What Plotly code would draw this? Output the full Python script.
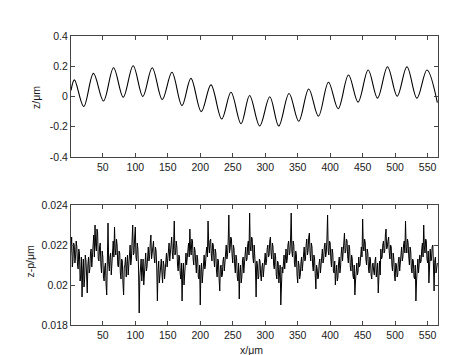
import plotly.graph_objects as go
from plotly.subplots import make_subplots

# Top profile: extrema (x in um, z in um)
top_x = [1, 6.3, 20.6, 35.6, 51, 66.5, 81.4, 96.7, 111.6, 126, 141.5, 156.4, 171.8,
         185.6, 201.5, 216.5, 233, 247.3, 262.8, 276, 291.5, 307, 320.8, 336.7,
         351.6, 367, 381.9, 397.4, 412.3, 428.2, 443, 458.5, 472.9, 488.3, 503.2,
         518.2, 533.6, 549, 565]
top_z = [0.04, 0.11, -0.066, 0.153, -0.03, 0.19, -0.005, 0.203, 0.0, 0.19, -0.02,
         0.16, -0.06, 0.12, -0.10, 0.077, -0.149, 0.028, -0.18, 0.007, -0.195,
         -0.002, -0.195, 0.02, -0.164, 0.05, -0.13, 0.094, -0.081, 0.142, -0.037,
         0.175, -0.011, 0.197, 0.002, 0.197, -0.011, 0.175, -0.04]

# Bottom residual (values read/estimated from the picture)
# samples at even x = 0, 2, ..., 564
bot_z_even = [
    0.0213, 0.0224, 0.0212, 0.0220, 0.0214, 0.0219, 0.0208, 0.0216, 0.0205, 0.0194, 0.0213, 0.0203, 0.0212, 0.0196, 0.0214,
    0.0208, 0.0218, 0.0214, 0.0225, 0.0230, 0.0217, 0.0226, 0.0212, 0.0221, 0.0206, 0.0214, 0.0202, 0.0211, 0.0195, 0.0231,
    0.0207, 0.0216, 0.0212, 0.0222, 0.0229, 0.0215, 0.0220, 0.0209, 0.0216, 0.0203, 0.0212, 0.0195, 0.0210, 0.0204, 0.0215,
    0.0211, 0.0220, 0.0213, 0.0230, 0.0216, 0.0229, 0.0212, 0.0218, 0.0186, 0.0210, 0.0202, 0.0213, 0.0205, 0.0216, 0.0209,
    0.0219, 0.0214, 0.0225, 0.0216, 0.0222, 0.0211, 0.0217, 0.0192, 0.0212, 0.0204, 0.0213, 0.0201, 0.0210, 0.0207, 0.0216,
    0.0212, 0.0221, 0.0215, 0.0224, 0.0213, 0.0232, 0.0216, 0.0219, 0.0207, 0.0214, 0.0203, 0.0192, 0.0211, 0.0205, 0.0216,
    0.0213, 0.0221, 0.0228, 0.0215, 0.0222, 0.0210, 0.0217, 0.0206, 0.0213, 0.0203, 0.0190, 0.0211, 0.0206, 0.0215, 0.0210,
    0.0219, 0.0232, 0.0216, 0.0223, 0.0212, 0.0220, 0.0209, 0.0216, 0.0204, 0.0212, 0.0197, 0.0210, 0.0205, 0.0214, 0.0211,
    0.0220, 0.0215, 0.0235, 0.0218, 0.0223, 0.0211, 0.0218, 0.0206, 0.0213, 0.0202, 0.0193, 0.0210, 0.0204, 0.0214, 0.0209,
    0.0219, 0.0213, 0.0222, 0.0236, 0.0217, 0.0223, 0.0211, 0.0216, 0.0194, 0.0210, 0.0204, 0.0212, 0.0202, 0.0211, 0.0207,
    0.0216, 0.0212, 0.0220, 0.0215, 0.0224, 0.0213, 0.0219, 0.0208, 0.0214, 0.0203, 0.0211, 0.0205, 0.0190, 0.0209, 0.0213,
    0.0208, 0.0218, 0.0213, 0.0222, 0.0216, 0.0236, 0.0214, 0.0220, 0.0209, 0.0215, 0.0201, 0.0210, 0.0205, 0.0214, 0.0210,
    0.0219, 0.0213, 0.0223, 0.0217, 0.0226, 0.0212, 0.0219, 0.0207, 0.0213, 0.0198, 0.0208, 0.0204, 0.0213, 0.0209, 0.0218,
    0.0213, 0.0221, 0.0216, 0.0235, 0.0215, 0.0221, 0.0209, 0.0216, 0.0206, 0.0200, 0.0210, 0.0204, 0.0214, 0.0209, 0.0219,
    0.0215, 0.0226, 0.0217, 0.0222, 0.0211, 0.0218, 0.0207, 0.0213, 0.0203, 0.0195, 0.0209, 0.0205, 0.0214, 0.0210, 0.0219,
    0.0233, 0.0217, 0.0221, 0.0210, 0.0216, 0.0206, 0.0213, 0.0203, 0.0211, 0.0205, 0.0214, 0.0207, 0.0196, 0.0212, 0.0218,
    0.0214, 0.0222, 0.0217, 0.0228, 0.0219, 0.0224, 0.0213, 0.0219, 0.0207, 0.0213, 0.0202, 0.0210, 0.0205, 0.0214, 0.0210,
    0.0219, 0.0214, 0.0222, 0.0232, 0.0216, 0.0221, 0.0210, 0.0217, 0.0206, 0.0212, 0.0203, 0.0192, 0.0210, 0.0206, 0.0215,
    0.0212, 0.0221, 0.0230, 0.0216, 0.0222, 0.0211, 0.0201, 0.0218, 0.0213, 0.0220, 0.0197, 0.0214, 0.0209,
]
# samples at odd x = 1, 3, ..., 565
bot_z_odd = [
    0.0220, 0.0209, 0.0221, 0.0211, 0.0222, 0.0210, 0.0218, 0.0202, 0.0214, 0.0207, 0.0199, 0.0215, 0.0205, 0.0210, 0.0206,
    0.0216, 0.0209, 0.0223, 0.0214, 0.0220, 0.0228, 0.0213, 0.0219, 0.0210, 0.0217, 0.0204, 0.0209, 0.0200, 0.0213, 0.0211,
    0.0214, 0.0205, 0.0219, 0.0214, 0.0218, 0.0223, 0.0210, 0.0217, 0.0206, 0.0213, 0.0201, 0.0209, 0.0214, 0.0210, 0.0205,
    0.0217, 0.0210, 0.0222, 0.0215, 0.0224, 0.0214, 0.0221, 0.0208, 0.0204, 0.0213, 0.0208, 0.0200, 0.0211, 0.0207, 0.0214,
    0.0212, 0.0221, 0.0213, 0.0220, 0.0214, 0.0219, 0.0209, 0.0207, 0.0201, 0.0210, 0.0206, 0.0212, 0.0203, 0.0213, 0.0209,
    0.0218, 0.0212, 0.0220, 0.0216, 0.0221, 0.0215, 0.0222, 0.0210, 0.0215, 0.0206, 0.0211, 0.0206, 0.0200, 0.0212, 0.0210,
    0.0219, 0.0214, 0.0218, 0.0223, 0.0213, 0.0219, 0.0211, 0.0215, 0.0204, 0.0210, 0.0207, 0.0201, 0.0213, 0.0208, 0.0216,
    0.0214, 0.0220, 0.0222, 0.0215, 0.0221, 0.0213, 0.0218, 0.0207, 0.0213, 0.0203, 0.0209, 0.0204, 0.0212, 0.0207, 0.0216,
    0.0213, 0.0222, 0.0216, 0.0224, 0.0215, 0.0220, 0.0210, 0.0215, 0.0204, 0.0211, 0.0206, 0.0201, 0.0212, 0.0206, 0.0215,
    0.0212, 0.0220, 0.0215, 0.0219, 0.0224, 0.0214, 0.0220, 0.0208, 0.0212, 0.0203, 0.0213, 0.0205, 0.0209, 0.0204, 0.0213,
    0.0210, 0.0218, 0.0214, 0.0222, 0.0216, 0.0221, 0.0210, 0.0216, 0.0205, 0.0212, 0.0201, 0.0210, 0.0204, 0.0206, 0.0215,
    0.0214, 0.0211, 0.0220, 0.0215, 0.0223, 0.0217, 0.0222, 0.0211, 0.0217, 0.0205, 0.0212, 0.0203, 0.0211, 0.0207, 0.0216,
    0.0212, 0.0220, 0.0215, 0.0224, 0.0216, 0.0221, 0.0210, 0.0215, 0.0205, 0.0210, 0.0203, 0.0211, 0.0206, 0.0215, 0.0211,
    0.0219, 0.0214, 0.0223, 0.0217, 0.0222, 0.0213, 0.0218, 0.0207, 0.0212, 0.0206, 0.0202, 0.0211, 0.0206, 0.0216, 0.0212,
    0.0221, 0.0216, 0.0223, 0.0214, 0.0220, 0.0209, 0.0215, 0.0205, 0.0210, 0.0202, 0.0211, 0.0207, 0.0209, 0.0216, 0.0214,
    0.0219, 0.0223, 0.0213, 0.0218, 0.0208, 0.0214, 0.0205, 0.0210, 0.0207, 0.0212, 0.0204, 0.0211, 0.0208, 0.0205, 0.0213,
    0.0220, 0.0216, 0.0225, 0.0218, 0.0222, 0.0216, 0.0220, 0.0210, 0.0216, 0.0205, 0.0211, 0.0204, 0.0212, 0.0207, 0.0215,
    0.0212, 0.0220, 0.0216, 0.0219, 0.0223, 0.0214, 0.0219, 0.0208, 0.0213, 0.0204, 0.0210, 0.0202, 0.0213, 0.0209, 0.0211,
    0.0218, 0.0214, 0.0219, 0.0223, 0.0213, 0.0217, 0.0209, 0.0212, 0.0219, 0.0210, 0.0212, 0.0206, 0.0211,
]

bot_x = []
bot_z = []
for i, (ze, zo) in enumerate(zip(bot_z_even, bot_z_odd)):
    bot_x += [2 * i, 2 * i + 1]
    bot_z += [ze, zo]

x_ticks = [50, 100, 150, 200, 250, 300, 350, 400, 450, 500, 550]
top_ticks = [-0.4, -0.2, 0, 0.2, 0.4]
top_tick_text = ["-0.4", "-0.2", "0", "0.2", "0.4"]
bot_ticks = [0.018, 0.020, 0.022, 0.024]
bot_tick_text = ["0.018", "0.02", "0.022", "0.024"]

fig = make_subplots(rows=2, cols=1, vertical_spacing=0.166)
fig.add_trace(go.Scatter(x=top_x, y=top_z, mode="lines",
                         line=dict(color="black", width=1.1, shape="spline", smoothing=1.0)),
              row=1, col=1)
fig.add_trace(go.Scatter(x=bot_x, y=bot_z, mode="lines",
                         line=dict(color="black", width=1.0)),
              row=2, col=1)

font = dict(family="Liberation Sans, Arial, sans-serif", size=10.5, color="#1a1a1a")
axis_common = dict(showgrid=False, zeroline=False, showline=True, linecolor="#444",
                   linewidth=1, mirror="ticks", ticks="inside", ticklen=4,
                   tickcolor="#444", tickfont=font)

fig.update_xaxes(range=[1, 566], tickvals=x_ticks, **axis_common)
fig.update_yaxes(range=[-0.4, 0.4], tickvals=top_ticks, ticktext=top_tick_text,
                 row=1, col=1, **axis_common)
fig.update_yaxes(range=[0.018, 0.024], tickvals=bot_ticks, ticktext=bot_tick_text,
                 row=2, col=1, **axis_common)

# axis titles placed as annotations for exact positioning
fig.add_annotation(text="z/\u03bcm", xref="paper", yref="paper", x=-0.0954, y=0.789,
                   textangle=-90, showarrow=False, font=font, xanchor="center", yanchor="middle")
fig.add_annotation(text="z-p/\u03bcm", xref="paper", yref="paper", x=-0.1131, y=0.2215,
                   textangle=-90, showarrow=False, font=font, xanchor="center", yanchor="middle")
fig.add_annotation(text="x/\u03bcm", xref="paper", yref="paper", x=0.493, y=-0.0865,
                   showarrow=False, font=font, xanchor="center", yanchor="middle")

fig.update_layout(
    width=474, height=355,
    margin=dict(l=63, r=44, t=28, b=38),
    paper_bgcolor="white", plot_bgcolor="white",
    showlegend=False, font=font,
)
fig.layout.yaxis.domain = [0.5813, 1.0]
fig.layout.yaxis2.domain = [0.0, 0.4152]

fig.write_html("out.html")
